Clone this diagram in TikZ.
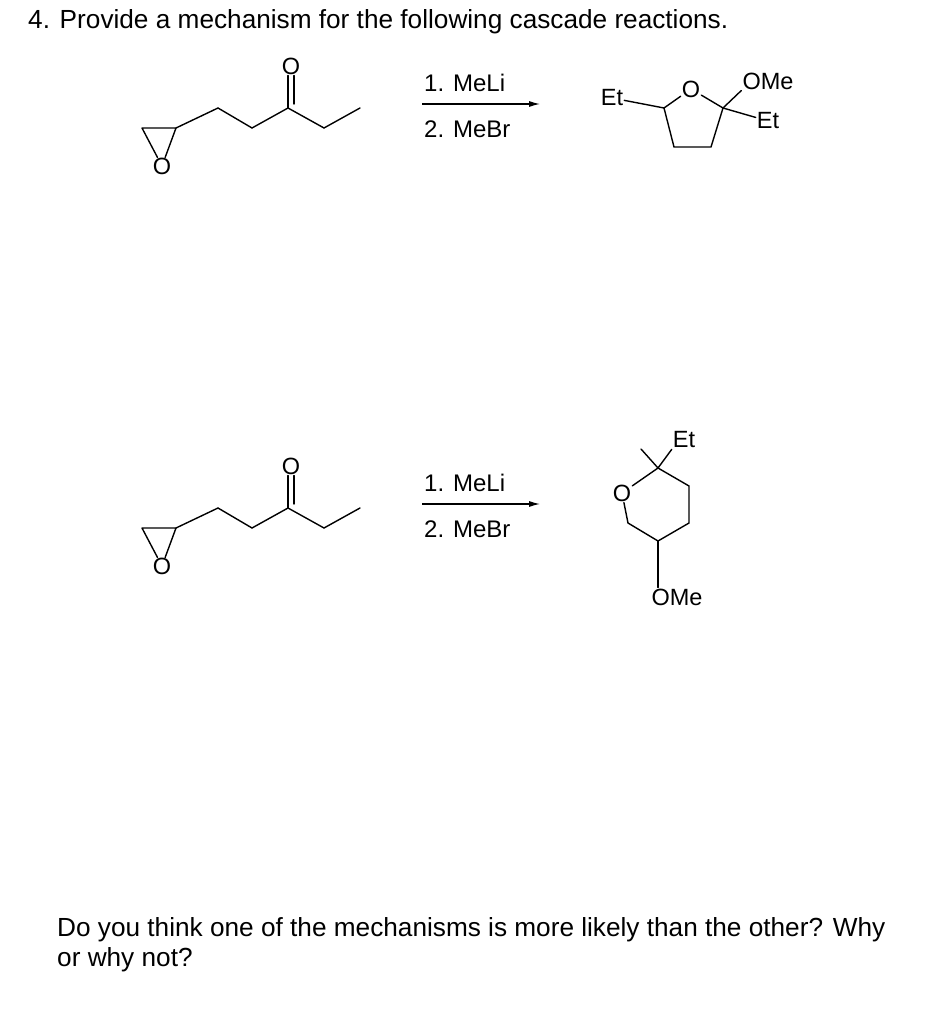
\documentclass[tikz,border=0pt]{standalone}
\usepackage{fontspec}
\setmainfont{Liberation Sans}
\usetikzlibrary{arrows.meta}
\begin{document}
\begin{tikzpicture}[x=1pt,y=-1pt,
  bond/.style={line width=1.4pt,line cap=round},
  atom/.style={inner sep=1pt,font=\fontsize{23.5}{26}\selectfont},
  reag/.style={anchor=west,inner sep=0pt,font=\fontsize{24}{28}\selectfont},
  txt/.style={anchor=west,inner sep=0pt,font=\fontsize{26.2}{30}\selectfont,align=left},
  rxn/.style={line width=1.2pt,-{Latex[length=11pt,width=6pt]}}]
\useasboundingbox (0,0) rectangle (927,1024);
\node[txt] (title) at (28,22) {4. Provide a mechanism for the following cascade reactions.};
\foreach \dy/\n in {0/a,400/b}{
  \begin{scope}[yshift=-\dy]
  \coordinate (\n e1) at (142,128);
  \coordinate (\n e2) at (176,128);
  \node[atom,inner sep=0pt] (\n eo) at (162,166) {O};
  \coordinate (\n c1) at (218,108);
  \coordinate (\n c2) at (252,128);
  \coordinate (\n c3) at (288,108);
  \coordinate (\n c4) at (324,128);
  \coordinate (\n c5) at (360,108);
  \node[atom] (\n co) at (291,66) {O};
  \draw[bond] (\n e1) -- (\n e2) -- (\n eo) -- (\n e1);
  \draw[bond] (\n e2) -- (\n c1) -- (\n c2) -- (\n c3) -- (\n c4) -- (\n c5);
  \draw[bond] (\n c3) -- (\n c3 |- \n co.south);
  \draw[bond] ([xshift=6]\n c3) ++(0,-4) coordinate (\n d1) -- (\n d1 |- \n co.south);
  \coordinate (\n a1) at (422,104);
  \coordinate (\n a2) at (540,104);
  \draw[rxn] (\n a1) -- (\n a2);
  \node[reag] (\n r1) at (424,83) {1. MeLi};
  \node[reag] (\n r2) at (424,129) {2. MeBr};
  \end{scope}
}
% THF product
\node[atom] (et1) at (612,98) {Et};
\coordinate (t5) at (664,108);
\node[atom] (to) at (691,89) {O};
\coordinate (t2) at (723,108);
\coordinate (t3) at (711,147);
\coordinate (t4) at (674,147);
\node[atom] (tome) at (768,81) {OMe};
\node[atom] (tet) at (768,121) {Et};
\draw[bond] (et1) -- (t5) -- (to) -- (t2) -- (t3) -- (t4) -- (t5);
\draw[bond] (t2) -- (tome.south west);
\draw[bond] (t2) -- (tet);
% THP product
\node[atom] (pet) at (684,440) {Et};
\coordinate (pme) at (641,449);
\coordinate (p2) at (658,468);
\coordinate (p3) at (689,486);
\coordinate (p4) at (689,523);
\coordinate (p5) at (658,541);
\coordinate (p6) at (628,523);
\node[atom] (po) at (622,493) {O};
\node[atom] (pome) at (677,597) {OMe};
\draw[bond] (pme) -- (p2) -- (pet.south west);
\draw[bond] (p2) -- (p3) -- (p4) -- (p5) -- (p6) -- (po) -- (p2);
\draw[bond] (p5) -- (pome.north -| p5);
\node[txt] (q) at (57,945) {Do you think one of the mechanisms is more likely than the other? Why\\or why not?};
\end{tikzpicture}
\end{document}
